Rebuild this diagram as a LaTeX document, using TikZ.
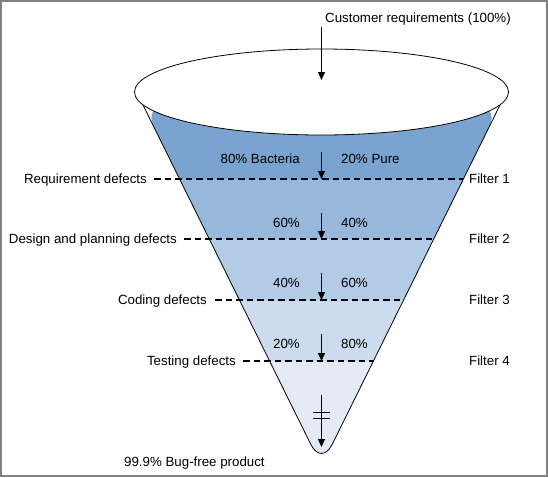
\documentclass[tikz,border=0pt]{standalone}
\usepackage{fontspec}
\setmainfont{Liberation Sans}
\usetikzlibrary{arrows.meta}
\definecolor{bandA}{HTML}{7AA3CF}
\definecolor{bandB}{HTML}{97B7DB}
\definecolor{bandC}{HTML}{B4CBE5}
\definecolor{bandD}{HTML}{CCDBEE}
\definecolor{bandE}{HTML}{E3EAF5}
\definecolor{framegray}{HTML}{808080}
\begin{document}
\begin{tikzpicture}[x=1pt,y=-1pt,font=\fontsize{13.3}{16}\selectfont,
		txt/.style={inner sep=0pt},
		flow/.style={black,line width=1pt,-{Triangle[length=8pt,width=7pt]}},
		filterline/.style={black,line width=1.3pt,dash pattern=on 6.5pt off 4pt}]
		\useasboundingbox (0,0) rectangle (548,477);
		\draw[framegray,line width=2pt] (1,1) rectangle (547,476);
		% funnel body with coloured bands
		\begin{scope}
			\clip[rounded corners=24pt] (143,105) -- (321.5,466) -- (500,105) -- cycle;
			\fill[bandA] (0,0) rectangle (548,179);
			\fill[bandB] (0,179) rectangle (548,239);
			\fill[bandC] (0,239) rectangle (548,300);
			\fill[bandD] (0,300) rectangle (548,361);
			\fill[bandE] (0,361) rectangle (548,477);
		\end{scope}
		\draw[black,line width=0.8pt,rounded corners=24pt] (143,105) -- (321.5,466) -- (500,105);
		\draw[black,line width=0.8pt,fill=white] (321.5,92) ellipse [x radius=187,y radius=43];
		% texts
		\node[txt,anchor=base west](cust) at (325,22){Customer requirements (100\%)};
		\node[txt,anchor=base east](reqd) at (147,183){Requirement defects};
		\node[txt,anchor=base east](desd) at (177,243){Design and planning defects};
		\node[txt,anchor=base east](codd) at (207,304){Coding defects};
		\node[txt,anchor=base east](tesd) at (236,365){Testing defects};
		\node[txt,anchor=base east](fa) at (510,183){Filter 1};
		\node[txt,anchor=base east](fb) at (510,243){Filter 2};
		\node[txt,anchor=base east](fc) at (510,304){Filter 3};
		\node[txt,anchor=base east](fd) at (510,365){Filter 4};
		\node[txt,anchor=base east](la) at (300,163){80\% Bacteria};
		\node[txt,anchor=base west](ra) at (341,163){20\% Pure};
		\node[txt,anchor=base east](lb) at (300,227){60\%};
		\node[txt,anchor=base west](rb) at (341,227){40\%};
		\node[txt,anchor=base east](lc) at (300,287){40\%};
		\node[txt,anchor=base west](rc) at (341,287){60\%};
		\node[txt,anchor=base east](ld) at (300,348){20\%};
		\node[txt,anchor=base west](rd) at (341,348){80\%};
		\node[txt,anchor=base west](prod) at (124,466){99.9\% Bug-free product};
		% filter lines
		\coordinate (sa) at (154,179);
		\coordinate (ea) at (463.4,179);
		\coordinate (sb) at (184,239);
		\coordinate (eb) at (433.8,239);
		\coordinate (sc) at (215,300);
		\coordinate (ec) at (403.7,300);
		\coordinate (sd) at (243,361);
		\coordinate (ed) at (373.5,361);
		\draw[filterline] (sa)--(ea);
		\draw[filterline] (sb)--(eb);
		\draw[filterline] (sc)--(ec);
		\draw[filterline] (sd)--(ed);
		% flow arrows
		\coordinate (in0) at (321.5,27);
		\coordinate (in1) at (321.5,80);
		\coordinate (ta) at (321.5,152);
		\coordinate (ma) at (321.5,179);
		\coordinate (tb) at (321.5,213);
		\coordinate (mb) at (321.5,239);
		\coordinate (tc) at (321.5,273);
		\coordinate (mc) at (321.5,300);
		\coordinate (td) at (321.5,334);
		\coordinate (md) at (321.5,361);
		\coordinate (te) at (321.5,395);
		\coordinate (me) at (321.5,447);
		\draw[flow] (in0)--(in1);
		\draw[flow] (ta)--(ma);
		\draw[flow] (tb)--(mb);
		\draw[flow] (tc)--(mc);
		\draw[flow] (td)--(md);
		\draw[flow] (te)--(me);
		\draw[black,line width=0.8pt] (313,412)--(330,412);
		\draw[black,line width=0.8pt] (313,418)--(330,418);
	\end{tikzpicture}
\end{document}
